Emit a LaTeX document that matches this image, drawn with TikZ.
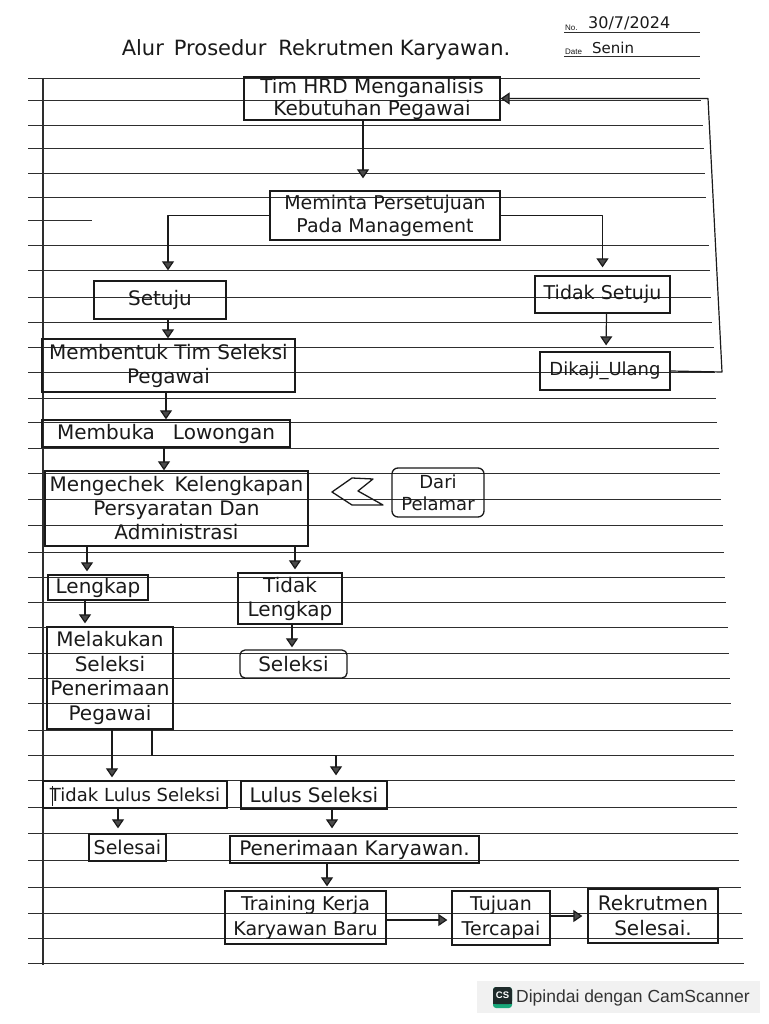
\documentclass[tikz,border=0pt]{standalone}
\usepackage{fontspec}
\setmainfont{DejaVu Sans}
\newfontfamily\printfont{Liberation Sans}
\usetikzlibrary{arrows.meta}
\definecolor{ink}{HTML}{1A1A1A}
\definecolor{rulecol}{HTML}{2E2E2E}
\definecolor{arrowgray}{HTML}{4A4A4A}
\definecolor{badgegray}{HTML}{F1F1F1}
\definecolor{csgreen}{HTML}{19A97B}
\definecolor{csdark}{HTML}{1E2A2A}
\definecolor{badgetext}{HTML}{333333}
\begin{document}
\begin{tikzpicture}[x=1pt,y=-1pt,
  box/.style={draw=ink, line width=1.3pt, inner sep=0pt, align=center, text=ink, font=\fontsize{20}{22}\selectfont},
  rbox/.style={box, rounded corners=6pt},
  arr/.style={draw=ink, line width=1.2pt, line join=round, -{Triangle[width=12pt,length=9pt,fill=arrowgray]}},
  ruleline/.style={draw=rulecol, line width=0.9pt},
  hw/.style={text=ink, inner sep=0pt}
]
\useasboundingbox (0,0) rectangle (768,1024);
\fill[white] (0,0) rectangle (768,1024);

% ruled paper
\foreach \yy in {78,100,125,148,173,197,245,270,297,322,347,372,398,422,448,473,499,525,552,577,602,627,653,678,703,730,755,780,807,833,860,887,913,938,963}{
  \pgfmathsetmacro{\xe}{700+(\yy-75)*0.05}
  \draw[ruleline] (28,\yy) -- (\xe,\yy);
}
\draw[ruleline] (28,220) -- (92,220);
\draw[ruleline, line width=1.1pt] (43,78) -- (43,965);

% header
\node[hw, font=\fontsize{21}{21}\selectfont] (title) at (316,50) {Alur\hspace{10pt}Prosedur\hspace{12pt}Rekrutmen\hspace{6pt}Karyawan.};
\draw[ruleline] (564,32) -- (700,32);
\draw[ruleline] (564,56) -- (700,56);
\node[hw, anchor=south west, font=\printfont\fontsize{8}{8}\selectfont] (nolbl) at (565,31) {No.};
\node[hw, anchor=south west, font=\fontsize{16}{16}\selectfont] (nodate) at (588,30) {30/7/2024};
\node[hw, anchor=south west, font=\printfont\fontsize{8}{8}\selectfont] (datelbl) at (565,55) {Date};
\node[hw, anchor=south west, font=\fontsize{15}{15}\selectfont] (day) at (592,54) {Senin};

% boxes
\node[box, minimum width=256pt, minimum height=43pt] (hrd) at (372,98.5) {Tim HRD Menganalisis\\Kebutuhan Pegawai};
\node[box, minimum width=230pt, minimum height=49pt, font=\fontsize{19}{23}\selectfont] (meminta) at (385,215.5) {Meminta Persetujuan\\Pada Management};
\node[box, minimum width=132pt, minimum height=38pt] (setuju) at (160,300) {Setuju};
\node[box, minimum width=135pt, minimum height=37pt, font=\fontsize{19}{22}\selectfont] (tsetuju) at (602.5,294.5) {Tidak Setuju};
\node[box, minimum width=253pt, minimum height=53pt, font=\fontsize{20}{24}\selectfont] (membentuk) at (168.5,365.5) {Membentuk Tim Seleksi\\Pegawai};
\node[box, minimum width=130pt, minimum height=38pt, font=\fontsize{18}{22}\selectfont] (dikaji) at (605,371) {Dikaji\_Ulang};
\node[box, minimum width=248pt, minimum height=27pt] (membuka) at (166,433.5) {Membuka\hspace{18pt}Lowongan};
\node[box, minimum width=263pt, minimum height=75pt, font=\fontsize{20}{24}\selectfont] (mengechek) at (176.5,508.5) {Mengechek\hspace{10pt}Kelengkapan\\Persyaratan Dan\\Administrasi};
\node[rbox, minimum width=92pt, minimum height=49pt, font=\fontsize{18}{22}\selectfont] (pelamar) at (438,492.5) {Dari\\Pelamar};
\node[box, minimum width=100pt, minimum height=25pt] (lengkap) at (98,587.5) {Lengkap};
\node[box, minimum width=104pt, minimum height=51pt, font=\fontsize{20}{24}\selectfont] (tlengkap) at (290,598.5) {Tidak\\Lengkap};
\node[box, minimum width=126pt, minimum height=102pt, font=\fontsize{20}{24.5}\selectfont] (melakukan) at (110,678) {Melakukan\\Seleksi\\Penerimaan\\Pegawai};
\node[rbox, minimum width=107pt, minimum height=28pt, rounded corners=5pt] (seleksi) at (293.5,664) {Seleksi};
\node[box, minimum width=184pt, minimum height=27pt, font=\fontsize{18}{22}\selectfont] (tlulus) at (135,794.5) {Tidak Lulus Seleksi};
\draw[ink, line width=1pt] (52,786) -- (52,806);
\node[box, minimum width=146pt, minimum height=28pt] (lulus) at (314,795) {Lulus\hspace{6pt}Seleksi};
\node[box, minimum width=77pt, minimum height=27pt, font=\fontsize{19}{22}\selectfont] (selesai) at (127.5,847.5) {Selesai};
\node[box, minimum width=249pt, minimum height=27pt] (penerimaan) at (354.5,849.5) {Penerimaan Karyawan.};
\node[box, minimum width=161pt, minimum height=53pt, font=\fontsize{19}{25}\selectfont] (training) at (305.5,917.5) {Training Kerja\\Karyawan Baru};
\node[box, minimum width=98pt, minimum height=54pt, font=\fontsize{19}{25}\selectfont] (tujuan) at (501,918) {Tujuan\\Tercapai};
\node[box, minimum width=130pt, minimum height=54pt, font=\fontsize{20}{25}\selectfont] (rekrutmen) at (653,916) {Rekrutmen\\Selesai.};

% chevron from pelamar
\draw[ink, line width=1.3pt, line join=round] (332,492) -- (352,478) -- (373,479) -- (358,491) -- (383,505) -- (352,505) -- cycle;

% connectors
\draw[arr, shorten >=12pt] ([xshift=-9pt]hrd.south) -- ([xshift=-22pt]meminta.north);
\draw[arr, shorten >=10pt] (meminta.west) -| ([xshift=8pt]setuju.north);
\draw[arr, shorten >=8pt] (meminta.east) -| (tsetuju.north);
\draw[arr] ([xshift=8pt]setuju.south) -- ([xshift=-0.5pt]membentuk.north);
\draw[arr, shorten >=6pt] ([xshift=4pt]tsetuju.south) -- ([xshift=1pt]dikaji.north);
\coordinate (fb1) at (722,372);
\coordinate (fb2) at (708,98.5);
\draw[arr] (dikaji.east) -- (fb1) -- (fb2) -- (hrd.east);
\draw[arr] ([xshift=-2.5pt]membentuk.south) -- (membuka.north);
\draw[arr] ([xshift=-2pt]membuka.south) -- ([xshift=-12.5pt]mengechek.north);
\draw[arr, shorten >=3pt] ([xshift=-89.5pt]mengechek.south) -- ([xshift=-11pt]lengkap.north);
\draw[arr, shorten >=3pt] ([xshift=118.5pt]mengechek.south) -- ([xshift=5pt]tlengkap.north);
\draw[arr, shorten >=3pt] ([xshift=-13pt]lengkap.south) -- ([xshift=-25pt]melakukan.north);
\draw[arr, shorten >=2pt] ([xshift=2pt]tlengkap.south) -- ([xshift=-1.5pt]seleksi.north);
\draw[arr, shorten >=3pt] ([xshift=2pt]melakukan.south) -- ([xshift=-23pt]tlulus.north);
\draw[arr, shorten >=5pt] ([xshift=42pt]melakukan.south) -- ++(0,26) -| ([xshift=22pt]lulus.north);
\draw[arr, shorten >=5pt] ([xshift=-17pt]tlulus.south) -- ([xshift=-9.5pt]selesai.north);
\draw[arr, shorten >=7pt] ([xshift=18pt]lulus.south) -- ([xshift=-22.5pt]penerimaan.north);
\draw[arr, shorten >=4pt] ([xshift=-27.5pt]penerimaan.south) -- ([xshift=21.5pt]training.north);
\draw[arr, shorten >=4pt] ([yshift=-2.5pt]training.east) -- ([yshift=-2pt]tujuan.west);
\draw[arr, shorten >=5pt] ([yshift=2pt]tujuan.east) -- (rekrutmen.west);

% CamScanner badge
\node[fill=badgegray, minimum width=283pt, minimum height=32pt, inner sep=0pt] (badge) at (618.5,997) {};
\fill[csgreen, rounded corners=3pt] (493,987) rectangle (512,1008);
\fill[csdark, rounded corners=3pt] (493,987) rectangle (512,1004);
\fill[csdark] (493,998) rectangle (512,1004);
\node[text=white, inner sep=0pt, font=\printfont\bfseries\fontsize{9.5}{9.5}\selectfont] (cslogo) at (502.5,995.5) {CS};
\node[anchor=west, text=badgetext, inner sep=0pt, font=\printfont\fontsize{17.5}{17.5}\selectfont] (badgetxt) at (516,997.5) {Dipindai dengan CamScanner};
\end{tikzpicture}
\end{document}
